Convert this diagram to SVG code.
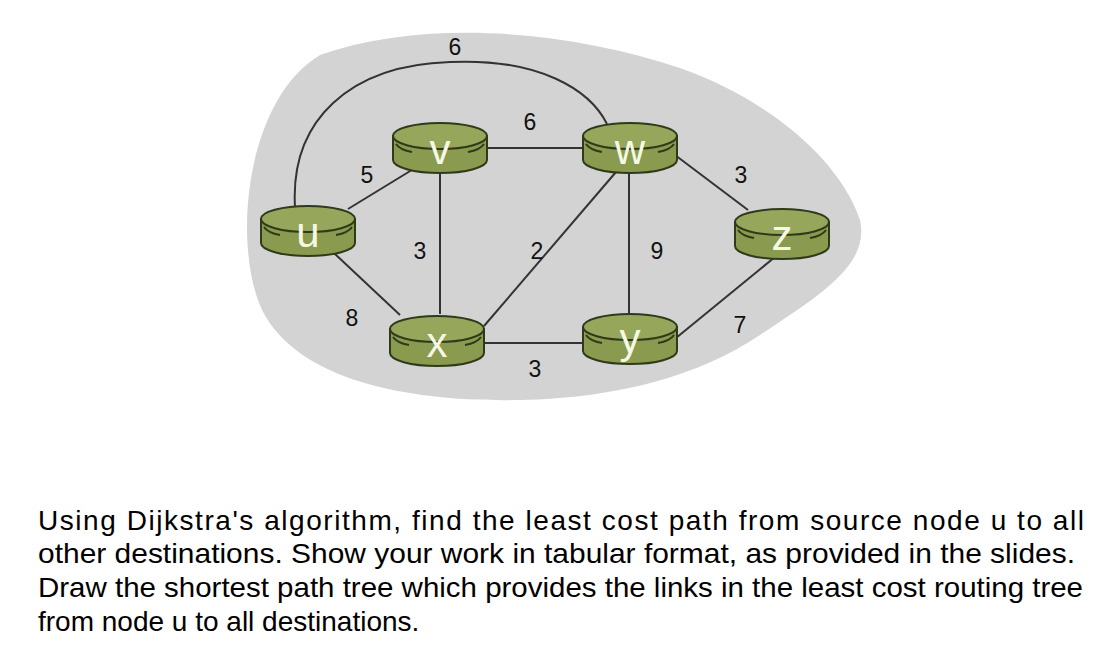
<svg xmlns="http://www.w3.org/2000/svg" width="1105" height="647" viewBox="0 0 1105 647">
<style>
.e{stroke:#333;stroke-width:2;fill:none}
.n{font-family:"Liberation Sans",Arial,sans-serif;font-size:23px;fill:#111;text-anchor:middle}
.l{font-family:"Liberation Sans",Arial,sans-serif;font-size:42px;fill:#f4f8e4;text-anchor:middle}
.b{fill:#8a9a4e;stroke:#2e3a1a;stroke-width:2}
.t{fill:#96a65a;stroke:#2e3a1a;stroke-width:2}
.q{font-family:"Liberation Sans",Arial,sans-serif;font-size:28px;fill:#000}
</style>
<defs>
<g id="r">
<path class="b" d="M-47,-12 V12 A47,13 0 0 0 47,12 V-12 Z"/>
<ellipse class="t" cx="0" cy="-12" rx="47" ry="13"/>
<path d="M-44,-4 Q-40,2 -28,4 M44,-4 Q40,2 28,4" stroke="#2e3a1a" stroke-width="2" fill="none"/>
</g>
</defs>
<rect width="1105" height="647" fill="#fff"/>
<path d="M320,55 C420,20 560,28 680,68 C770,100 840,160 860,220 C870,265 820,295 760,335 C700,375 620,398 520,400 C420,402 300,385 262,310 C232,245 245,100 320,55 Z" fill="#d3d3d3"/>
<g id="connectors">
<path class="e" d="M295,207 C290,120 350,65 450,62 C540,58 590,90 607,124"/>
<line class="e" x1="348" y1="209" x2="420" y2="165"/>
<line class="e" x1="335" y1="254" x2="400" y2="315"/>
<line class="e" x1="487" y1="148" x2="583" y2="148"/>
<line class="e" x1="440" y1="172" x2="440" y2="314"/>
<line class="e" x1="616" y1="172" x2="484" y2="326"/>
<line class="e" x1="629" y1="172" x2="629" y2="313"/>
<line class="e" x1="675" y1="155" x2="748" y2="210"/>
<line class="e" x1="775" y1="257" x2="676" y2="338"/>
<line class="e" x1="484" y1="343" x2="583" y2="343"/>
</g>
<g id="labels">
<text class="n" x="455" y="55">6</text>
<text class="n" x="530" y="130">6</text>
<text class="n" x="367" y="183">5</text>
<text class="n" x="420" y="259">3</text>
<text class="n" x="537" y="259">2</text>
<text class="n" x="657" y="259">9</text>
<text class="n" x="741" y="183">3</text>
<text class="n" x="740" y="333">7</text>
<text class="n" x="352" y="326">8</text>
<text class="n" x="535" y="377">3</text>
</g>
<g id="u"><use href="#r" x="308" y="231"/><text class="l" x="308" y="247">u</text></g>
<g id="v"><use href="#r" x="440" y="148"/><text class="l" x="440" y="164">v</text></g>
<g id="w"><use href="#r" x="630" y="148"/><text class="l" x="630" y="164">w</text></g>
<g id="z"><use href="#r" x="782" y="234"/><text class="l" x="782" y="250">z</text></g>
<g id="x"><use href="#r" x="437" y="341"/><text class="l" x="437" y="357">x</text></g>
<g id="y"><use href="#r" x="630" y="339"/><text class="l" x="630" y="353">y</text></g>
<g id="question">
<text class="q" x="38" y="530" textLength="1046" lengthAdjust="spacing">Using Dijkstra's algorithm, find the least cost path from source node u to all</text>
<text class="q" x="38" y="563" textLength="1037" lengthAdjust="spacingAndGlyphs">other destinations. Show your work in tabular format, as provided in the slides.</text>
<text class="q" x="38" y="597" textLength="1045" lengthAdjust="spacingAndGlyphs">Draw the shortest path tree which provides the links in the least cost routing tree</text>
<text class="q" x="38" y="631">from node u to all destinations.</text>
</g>
</svg>
